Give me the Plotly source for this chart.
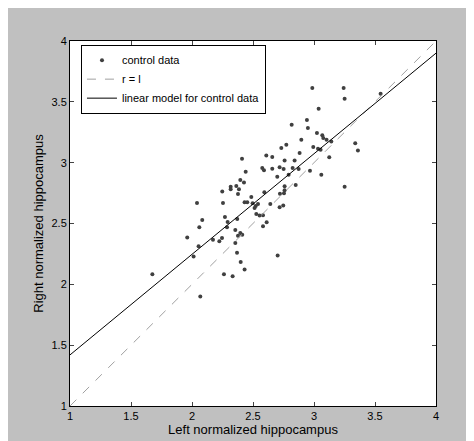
import numpy as np
import plotly.graph_objects as go

left = [2.986,3.243,3.251,3.546,3.038,2.942,2.817,2.950,3.024,3.068,3.076,3.103,3.142,2.896,2.773,2.732,2.994,3.054,3.033,2.882,
        3.338,3.360,3.125,2.609,2.658,2.410,2.759,2.841,2.718,2.751,2.576,2.590,2.658,2.825,2.874,2.967,2.440,2.792,2.699,3.060,
        2.396,2.426,2.850,3.251,2.317,2.317,2.363,2.385,2.248,2.759,2.759,2.754,2.721,2.377,2.593,2.486,2.041,2.254,2.431,2.453,
        2.497,2.541,2.522,2.513,2.642,2.718,2.748,2.527,2.554,2.582,2.270,2.371,2.084,2.292,2.612,2.582,2.060,2.287,2.355,2.396,
        2.412,2.377,1.961,2.172,2.246,2.224,2.355,2.054,2.369,2.013,2.702,2.399,2.431,2.262,2.333,2.068,1.675]
right = [3.614,3.614,3.526,3.567,3.444,3.351,3.312,3.285,3.244,3.225,3.203,3.189,3.175,3.189,3.148,3.121,3.129,3.107,3.115,3.080,
         3.159,3.099,3.044,3.058,3.047,3.033,3.017,3.017,2.962,2.948,2.956,2.937,2.951,2.956,2.948,2.934,2.926,2.901,2.885,2.901,
         2.858,2.838,2.817,2.803,2.803,2.781,2.808,2.781,2.762,2.806,2.773,2.748,2.745,2.743,2.756,2.718,2.669,2.669,2.674,2.674,
         2.666,2.660,2.644,2.628,2.660,2.633,2.647,2.578,2.565,2.567,2.554,2.537,2.529,2.512,2.510,2.477,2.469,2.469,2.447,2.422,
         2.408,2.400,2.384,2.367,2.381,2.354,2.340,2.313,2.260,2.228,2.238,2.184,2.121,2.082,2.066,1.901,2.083]
line_x = [1, 4]
fit_y = [1.42, 3.90]  # linear model endpoints
ident_y = [1, 4]

fig = go.Figure()
fig.add_trace(go.Scatter(x=left, y=right, mode="markers", name="control data",
                         marker=dict(size=4, color="#404040")))
fig.add_trace(go.Scatter(x=line_x, y=ident_y, mode="lines", name="r = l",
                         line=dict(color="#a0a0a0", width=1, dash="dash")))
fig.add_trace(go.Scatter(x=line_x, y=fit_y, mode="lines", name="linear model for control data",
                         line=dict(color="black", width=1)))

ax = dict(range=[1, 4], dtick=0.5, ticks="inside", ticklen=4, showgrid=False, zeroline=False,
          showline=True, linecolor="black", linewidth=1, mirror="ticks", automargin=False,
          tickfont=dict(family="Liberation Sans, Arial", size=11, color="black"),
          tickformat="~g")
fig.update_layout(
    width=474, height=441, margin=dict(l=62, r=46, t=33, b=43),
    paper_bgcolor="#c0c0c0", plot_bgcolor="white",
    font=dict(family="Liberation Sans, Arial", size=11, color="black"),
    xaxis=dict(ax, title=dict(text="Left normalized hippocampus", standoff=2)),
    yaxis=dict(ax, title=dict(text="Right normalized hippocampus", standoff=4)),
    legend=dict(x=0.03, y=0.99, xanchor="left", yanchor="top", bgcolor="white",
                bordercolor="black", borderwidth=1, font=dict(size=11), tracegroupgap=0),
)
fig.write_html("out.html")
